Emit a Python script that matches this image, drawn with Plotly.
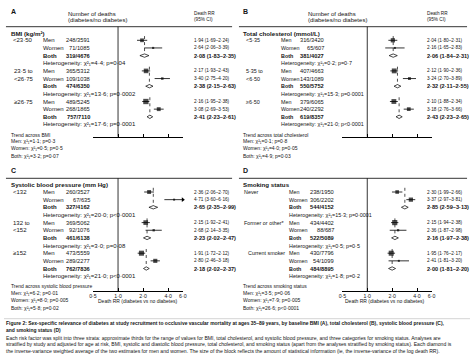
import math
import plotly.graph_objects as go

W, H = 474, 360

# ---------------- data ----------------
A_title = "BMI (kg/m²)"
A_groups = [["<23·50"], ["23·5 to", "<26·75"], ["≥26·75"]]
A_men_deaths = ["248/3591", "365/5312", "489/5245"]
A_women_deaths = ["71/1085", "109/1038", "268/1865"]
A_both_deaths = ["319/4676", "474/6350", "757/7110"]
A_men_rr = [1.94, 2.17, 2.16]
A_men_lo = [1.69, 1.93, 1.95]
A_men_hi = [2.24, 2.43, 2.38]
A_women_rr = [2.64, 3.40, 3.08]
A_women_lo = [2.06, 2.75, 2.69]
A_women_hi = [3.39, 4.20, 3.53]
A_both_rr = [2.08, 2.38, 2.41]
A_both_lo = [1.83, 2.15, 2.23]
A_both_hi = [2.35, 2.63, 2.61]
A_het = ["χ²₁=4·4; p=0·04", "χ²₁=13·6; p=0·0002", "χ²₁=17·6; p=0·0001"]
A_trend_title = "Trend across BMI"
A_trend = ["Men: χ²₁=1·1; p=0·3", "Women: χ²₁=0·5; p=0·5", "Both: χ²₁=3·2; p=0·07"]

B_title = "Total cholesterol (mmol/L)"
B_groups = [["<5·35"], ["5·35 to", "<6·50"], ["≥6·50"]]
B_men_deaths = ["316/3420", "407/4663", "379/6065"]
B_women_deaths = ["65/607", "143/1089", "240/2292"]
B_both_deaths = ["381/4027", "550/5752", "619/8357"]
B_men_rr = [2.04, 2.12, 2.10]
B_men_lo = [1.80, 1.90, 1.88]
B_men_hi = [2.31, 2.36, 2.34]
B_women_rr = [2.16, 3.24, 3.18]
B_women_lo = [1.65, 2.70, 2.76]
B_women_hi = [2.83, 3.89, 3.66]
B_both_rr = [2.06, 2.32, 2.43]
B_both_lo = [1.84, 2.11, 2.23]
B_both_hi = [2.31, 2.55, 2.65]
B_het = ["χ²₁=0·2; p=0·7", "χ²₁=15·3; p=0·0001", "χ²₁=21·0; p<0·0001"]
B_trend_title = "Trend across total cholesterol"
B_trend = ["Men: χ²₁=0·1; p=0·8", "Women: χ²₁=4·0; p=0·05", "Both: χ²₁=4·9; p=0·03"]

C_title = "Systolic blood pressure (mm Hg)"
C_groups = [["<132"], ["132 to", "<152"], ["≥152"]]
C_men_deaths = ["260/3527", "369/5062", "473/5559"]
C_women_deaths = ["67/635", "92/1076", "289/2277"]
C_both_deaths = ["327/4162", "461/6138", "762/7836"]
C_men_rr = [2.36, 2.15, 1.91]
C_men_lo = [2.06, 1.92, 1.72]
C_men_hi = [2.70, 2.41, 2.12]
C_women_rr = [4.71, 2.68, 2.80]
C_women_lo = [3.60, 2.14, 2.46]
C_women_hi = [6.16, 3.35, 3.18]
C_both_rr = [2.65, 2.23, 2.18]
C_both_lo = [2.35, 2.02, 2.02]
C_both_hi = [2.99, 2.47, 2.37]
C_het = ["χ²₁=20·0; p<0·0001", "χ²₁=3·0; p=0·08", "χ²₁=21·0; p<0·0001"]
C_trend_title = "Trend across systolic blood pressure"
C_trend = ["Men: χ²₁=6·2; p=0·01", "Women: χ²₁=8·0; p=0·005", "Both: χ²₁=5·8; p=0·02"]

D_title = "Smoking status"
D_groups = [["Never"], ["Former or other*"], ["Current smoker"]]
D_men_deaths = ["238/1950", "434/4402", "430/7796"]
D_women_deaths = ["306/2202", "88/687", "54/1099"]
D_both_deaths = ["544/4152", "522/5089", "484/8895"]
D_men_rr = [2.30, 2.15, 1.95]
D_men_lo = [1.99, 1.94, 1.76]
D_men_hi = [2.66, 2.38, 2.17]
D_women_rr = [3.37, 2.36, 2.41]
D_women_lo = [2.97, 1.87, 1.81]
D_women_hi = [3.81, 2.98, 3.20]
D_both_rr = [2.85, 2.16, 2.00]
D_both_lo = [2.59, 1.97, 1.81]
D_both_hi = [3.13, 2.38, 2.20]
D_het = ["χ²₁=15·3; p=0·0001", "χ²₁=0·5; p=0·5", "χ²₁=1·8; p=0·2"]
D_trend_title = "Trend across smoking status"
D_trend = ["Men: χ²₁=3·5; p=0·06", "Women: χ²₁=7·9; p=0·005", "Both: χ²₁=26·6; p<0·0001"]

tick_vals = [0.5, 1, 2, 4, 6]
tick_text = ["0·5", "1·0", "2·0", "4·0", "6·0"]
x_min, x_max = 0.5, 6.0

caption_lines = [
    "<b>Figure 2: Sex-specific relevance of diabetes at study recruitment to occlusive vascular mortality at ages 35–89 years, by baseline BMI (A), total cholesterol (B), systolic blood pressure (C),</b>",
    "<b>and smoking status (D)</b>",
    "Each risk factor was split into three strata: approximate thirds for the range of values for BMI, total cholesterol, and systolic blood pressure, and three categories for smoking status. Analyses are",
    "stratified by study and adjusted for age at risk, BMI, systolic and diastolic blood pressure, total cholesterol, and smoking status (apart from the analyses stratified by smoking status). Each diamond is",
    "the inverse-variance weighted average of the two estimates for men and women. The size of the block reflects the amount of statistical information (ie, the inverse-variance of the log death RR).",
]

# ---------------- layout (positions in px) ----------------
FONT = "Liberation Sans Narrow, Liberation Sans, Arial, sans-serif"
FS_LAB = 6.0      # row labels / heterogeneity
FS_NUM = 5.7      # death counts
FS_HEAD = 6.2     # panel variable header
FS_TREND = 5.0
FS_RR = 4.7
FS_RRB = 5.6
FS_TICK = 5.2
CAP_FS = 5.1
CAP_FS_B = 4.95

panels = {
    "A": dict(ax="", letter=(6, 11), xone=116, ppd=25.5, row0=40.3, step=7.65,
              axis_y=136.7, line_y=26.7, line_x=(2, 232), x_left=6, x_group=[8.3, 8.8, 8.8],
              x_sub=39, fs_sub=6.0, x_num=88, x_rr=192.3, head_y=33, trend_y=[135, 141, 148.3, 155.7],
              colhead=True, x_colhead=64.3, labels=False, xlabel_x=136),
    "B": dict(ax="2", letter=(241.7, 11), xone=369.5, ppd=25.3, row0=40.3, step=7.65,
              axis_y=136.7, line_y=26.7, line_x=(239, 471), x_left=241.7, x_group=[245.3, 245.3, 245.3],
              x_sub=281, fs_sub=5.4, x_num=327, x_rr=429, head_y=33, trend_y=[135, 141, 148.3, 155.7],
              colhead=True, x_colhead=308, labels=False, xlabel_x=388),
    "C": dict(ax="3", letter=(6, 170), xone=116, ppd=25.5, row0=192, step=7.65,
              axis_y=291, line_y=178.3, line_x=(2, 232), x_left=6, x_group=[8.3, 8.3, 8.3],
              x_sub=39, fs_sub=6.0, x_num=88, x_rr=192.3, head_y=184.3, trend_y=[286, 293.3, 300.3, 308],
              colhead=False, x_colhead=0, labels=True, xlabel_x=136),
    "D": dict(ax="4", letter=(241.7, 170), xone=369.5, ppd=25.3, row0=192, step=7.65,
              axis_y=291, line_y=178.3, line_x=(239, 471), x_left=241.7, x_group=[243.3, 243.3, 247],
              x_sub=289, fs_sub=5.4, x_num=337, x_rr=429, head_y=184.3, trend_y=[286, 293.3, 300.3, 308],
              colhead=False, x_colhead=0, labels=True, xlabel_x=388),
}

data = {
    "A": (A_title, A_groups, A_men_deaths, A_women_deaths, A_both_deaths, A_men_rr, A_men_lo, A_men_hi,
          A_women_rr, A_women_lo, A_women_hi, A_both_rr, A_both_lo, A_both_hi, A_het, A_trend_title, A_trend),
    "B": (B_title, B_groups, B_men_deaths, B_women_deaths, B_both_deaths, B_men_rr, B_men_lo, B_men_hi,
          B_women_rr, B_women_lo, B_women_hi, B_both_rr, B_both_lo, B_both_hi, B_het, B_trend_title, B_trend),
    "C": (C_title, C_groups, C_men_deaths, C_women_deaths, C_both_deaths, C_men_rr, C_men_lo, C_men_hi,
          C_women_rr, C_women_lo, C_women_hi, C_both_rr, C_both_lo, C_both_hi, C_het, C_trend_title, C_trend),
    "D": (D_title, D_groups, D_men_deaths, D_women_deaths, D_both_deaths, D_men_rr, D_men_lo, D_men_hi,
          D_women_rr, D_women_lo, D_women_hi, D_both_rr, D_both_lo, D_both_hi, D_het, D_trend_title, D_trend),
}


def px(x):
    return x / W


def py(y):
    return 1 - y / H


def fmt(v):
    return f"{v:.2f}".replace(".", "·")


def rrtxt(r, lo, hi):
    return f"{fmt(r)} ({fmt(lo)}–{fmt(hi)})"


def block_size(lo, hi):
    se = (math.log(hi) - math.log(lo)) / (2 * 1.96)
    return max(2.0, 0.27 / se)


fig = go.Figure()
annotations = []
shapes = []
layout_axes = {}
TXT = "#141414"


def ann(text, x, y, yref="paper", xanchor="left", bold=False, size=FS_LAB, color=TXT):
    if bold:
        text = f"<b>{text}</b>"
    annotations.append(dict(text=text, x=x, y=y, xref="paper", yref=yref, xanchor=xanchor,
                            yanchor="middle", showarrow=False, borderpad=0,
                            font=dict(family=FONT, size=size, color=color)))


for key, L in panels.items():
    (title, groups, md, wd, bd, mr, mlo, mhi, wr, wlo, whi, br, blo, bhi, het,
     ttitle, trend) = data[key]
    ax = L["ax"]
    xname, yname = "x" + ax, "y" + ax
    d0 = L["xone"] - L["ppd"]
    d1 = L["xone"] + L["ppd"] * math.log2(x_max)
    layout_axes["xaxis" + ax] = dict(
        type="log", range=[math.log10(x_min), math.log10(x_max)], domain=[px(d0), px(d1)],
        anchor="free", position=py(L["axis_y"]), showline=True, linecolor="black", linewidth=0.8,
        ticks="inside", ticklen=3, tickwidth=0.8, tickcolor="black", tickvals=tick_vals,
        ticktext=tick_text, showticklabels=L["labels"], showgrid=False, zeroline=False,
        tickfont=dict(family=FONT, size=FS_TICK, color=TXT), fixedrange=True)
    top = -L["row0"] / L["step"]
    bot = (H - L["row0"]) / L["step"]
    layout_axes["yaxis" + ax] = dict(range=[bot, top], domain=[0, 1], visible=False,
                                     anchor=xname, fixedrange=True)

    rows_m = [4 * g for g in range(3)]
    rows_w = [4 * g + 1 for g in range(3)]
    rows_b = [4 * g + 2 for g in range(3)]
    rows_h = [4 * g + 3 for g in range(3)]

    # CI lines
    cx, cy = [], []
    arrows_x, arrows_y = [], []
    for rr_lo, rr_hi, rows in ((mlo, mhi, rows_m), (wlo, whi, rows_w)):
        for lo, hi, r in zip(rr_lo, rr_hi, rows):
            cx += [max(lo, x_min), min(hi, x_max), None]
            cy += [r, r, None]
            if hi > x_max:
                arrows_x.append(x_max)
                arrows_y.append(r)
    fig.add_trace(go.Scatter(x=cx, y=cy, mode="lines", line=dict(color="black", width=0.8),
                             xaxis=xname, yaxis=yname, hoverinfo="skip", showlegend=False))
    if arrows_x:
        fig.add_trace(go.Scatter(x=arrows_x, y=arrows_y, mode="markers",
                                 marker=dict(symbol="triangle-right", size=4, color="black"),
                                 xaxis=xname, yaxis=yname, hoverinfo="skip", showlegend=False,
                                 cliponaxis=False))
    # squares (size reflects statistical information)
    sx = mr + wr
    sy = rows_m + rows_w
    ss = [block_size(lo, hi) for lo, hi in zip(mlo + wlo, mhi + whi)]
    fig.add_trace(go.Scatter(x=sx, y=sy, mode="markers",
                             marker=dict(symbol="square", size=ss, color="black", line=dict(width=0)),
                             xaxis=xname, yaxis=yname, hoverinfo="skip", showlegend=False,
                             cliponaxis=False))
    # diamonds
    dx, dy = [], []
    hh = 0.22
    for r, lo, hi, row in zip(br, blo, bhi, rows_b):
        dx += [lo, r, hi, r, lo, None]
        dy += [row, row - hh, row, row + hh, row, None]
    fig.add_trace(go.Scatter(x=dx, y=dy, mode="lines", fill="toself", fillcolor="white",
                             line=dict(color="black", width=0.7), xaxis=xname, yaxis=yname,
                             hoverinfo="skip", showlegend=False))

    # reference line at RR = 1
    shapes.append(dict(type="line", xref=xname, yref="paper", x0=1, x1=1,
                       y0=py(L["axis_y"]), y1=py(L["line_y"]), line=dict(color="black", width=0.8),
                       layer="below"))
    # dotted lines at pooled estimate per group
    for r, row_m, row_b in zip(br, rows_m, rows_b):
        shapes.append(dict(type="line", xref=xname, yref=yname, x0=r, x1=r, y0=row_m - 0.55,
                           y1=row_b + 0.3, line=dict(color="black", width=0.7, dash="dot"),
                           layer="below"))
    # header rule
    shapes.append(dict(type="line", xref="paper", yref="paper", x0=px(L["line_x"][0]),
                       x1=px(L["line_x"][1]), y0=py(L["line_y"]), y1=py(L["line_y"]),
                       line=dict(color="black", width=0.8)))

    # texts
    fs_sub = L["fs_sub"]
    ann(key, px(L["letter"][0]), py(L["letter"][1]), bold=True, size=7)
    if L["colhead"]:
        ann("Number of deaths", px(L["x_colhead"]), py(14), size=FS_LAB)
        ann("(diabetes/no diabetes)", px(L["x_colhead"]), py(20.3), size=FS_LAB)
        ann("Death RR", px(L["x_rr"]), py(14), size=FS_RR)
        ann("(95% CI)", px(L["x_rr"]), py(19.7), size=FS_RR)
    ann(title, px(L["x_left"]), py(L["head_y"]), bold=True, size=FS_HEAD)
    for g in range(3):
        for i, gl in enumerate(groups[g]):
            ann(gl, px(L["x_group"][g]), rows_m[g] + i, yref=yname, size=fs_sub)
        ann("Men", px(L["x_sub"]), rows_m[g], yref=yname, size=fs_sub)
        ann("Women", px(L["x_sub"]), rows_w[g], yref=yname, size=fs_sub)
        ann("Both", px(L["x_sub"]), rows_b[g], yref=yname, bold=True, size=fs_sub)
        ann("Heterogeneity: " + het[g], px(L["x_sub"]), rows_h[g], yref=yname, size=fs_sub)
        ann(md[g], px(L["x_num"]), rows_m[g], yref=yname, xanchor="right", size=FS_NUM)
        ann(wd[g], px(L["x_num"]), rows_w[g], yref=yname, xanchor="right", size=FS_NUM)
        ann(bd[g], px(L["x_num"]), rows_b[g], yref=yname, xanchor="right", bold=True, size=FS_NUM)
        ann(rrtxt(mr[g], mlo[g], mhi[g]), px(L["x_rr"]), rows_m[g], yref=yname, size=FS_RR)
        ann(rrtxt(wr[g], wlo[g], whi[g]), px(L["x_rr"]), rows_w[g], yref=yname, size=FS_RR)
        ann(rrtxt(br[g], blo[g], bhi[g]), px(L["x_rr"]), rows_b[g], yref=yname, bold=True, size=FS_RRB)
    ann(ttitle, px(L["x_left"]), py(L["trend_y"][0]), size=FS_TREND)
    for i, t in enumerate(trend):
        ann(t, px(L["x_left"]), py(L["trend_y"][i + 1]), size=FS_TREND)
    if L["labels"]:
        ann("Death RR (diabetes vs no diabetes)", px(L["xlabel_x"]), py(301), xanchor="center",
            size=FS_TREND)

# caption
shapes.append(dict(type="line", xref="paper", yref="paper", x0=0, x1=1, y0=py(318.7), y1=py(318.7),
                   line=dict(color="#c8c8c8", width=0.8)))
cap_y = [323.7, 330.7, 338, 344.4, 351.3]
for i, (line, yy) in enumerate(zip(caption_lines, cap_y)):
    ann(line, px(1.5), py(yy), size=CAP_FS_B if i < 2 else CAP_FS)

fig.update_layout(width=W, height=H, margin=dict(l=0, r=0, t=0, b=0), paper_bgcolor="white",
                  plot_bgcolor="rgba(0,0,0,0)", annotations=annotations, shapes=shapes,
                  showlegend=False, **layout_axes)

fig.write_html("out.html", config={"displayModeBar": False},
               post_script="document.body.style.margin='0';document.body.style.padding='0';")
